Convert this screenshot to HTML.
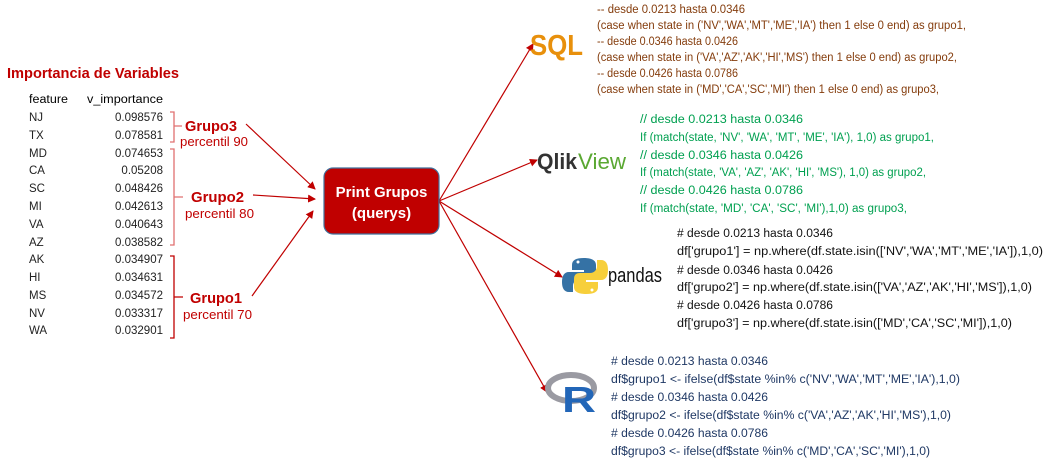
<!DOCTYPE html>
<html><head><meta charset="utf-8"><style>
html,body{margin:0;padding:0;background:#fff;width:1047px;height:462px;overflow:hidden}
svg{display:block}
text{font-family:"Liberation Sans",sans-serif}
</style></head><body>
<svg width="1047" height="462" viewBox="0 0 1047 462" xmlns="http://www.w3.org/2000/svg">
<defs>
<marker id="ah" markerWidth="8" markerHeight="8" refX="7" refY="4" orient="auto" markerUnits="userSpaceOnUse">
<path d="M0,0 L8,4 L0,8 z" fill="#c00000"/></marker>
</defs>
<text x="7" y="78" font-size="15" font-weight="bold" fill="#c00000" textLength="172" lengthAdjust="spacingAndGlyphs">Importancia de Variables</text>
<g font-size="11.5" fill="#000">
<text x="29" y="103" textLength="39" lengthAdjust="spacingAndGlyphs">feature</text>
<text x="87" y="103" textLength="76" lengthAdjust="spacingAndGlyphs">v_importance</text>
</g>
<g font-size="11.5" fill="#222">
<text x="29" y="121">NJ</text><text x="163" y="121" text-anchor="end">0.098576</text>
<text x="29" y="139">TX</text><text x="163" y="139" text-anchor="end">0.078581</text>
<text x="29" y="157">MD</text><text x="163" y="157" text-anchor="end">0.074653</text>
<text x="29" y="174">CA</text><text x="163" y="174" text-anchor="end">0.05208</text>
<text x="29" y="192">SC</text><text x="163" y="192" text-anchor="end">0.048426</text>
<text x="29" y="210">MI</text><text x="163" y="210" text-anchor="end">0.042613</text>
<text x="29" y="228">VA</text><text x="163" y="228" text-anchor="end">0.040643</text>
<text x="29" y="246">AZ</text><text x="163" y="246" text-anchor="end">0.038582</text>
<text x="29" y="263">AK</text><text x="163" y="263" text-anchor="end">0.034907</text>
<text x="29" y="281">HI</text><text x="163" y="281" text-anchor="end">0.034631</text>
<text x="29" y="299">MS</text><text x="163" y="299" text-anchor="end">0.034572</text>
<text x="29" y="317">NV</text><text x="163" y="317" text-anchor="end">0.033317</text>
<text x="29" y="334">WA</text><text x="163" y="334" text-anchor="end">0.032901</text>
</g>
<g fill="none" stroke-width="1.3">
<path d="M170,112 H174 V142 H170 M174,126 H182" stroke="#e07070"/>
<path d="M170,149 H174 V245 H170 M174,197 H183" stroke="#e07070"/>
<path d="M170,256 H174 V338 H170 M174,297 H183" stroke="#c00000"/>
</g>
<g fill="#c00000">
<text x="185" y="131" font-size="15" font-weight="bold" textLength="52" lengthAdjust="spacingAndGlyphs">Grupo3</text>
<text x="180" y="146" font-size="13" textLength="68" lengthAdjust="spacingAndGlyphs">percentil 90</text>
<text x="191" y="202" font-size="15" font-weight="bold" textLength="53" lengthAdjust="spacingAndGlyphs">Grupo2</text>
<text x="185" y="218" font-size="13" textLength="69" lengthAdjust="spacingAndGlyphs">percentil 80</text>
<text x="190" y="303" font-size="15" font-weight="bold" textLength="52" lengthAdjust="spacingAndGlyphs">Grupo1</text>
<text x="183" y="319" font-size="13" textLength="69" lengthAdjust="spacingAndGlyphs">percentil 70</text>
</g>
<g stroke="#c00000" stroke-width="1.2" marker-end="url(#ah)">
<line x1="246" y1="124" x2="315" y2="189"/>
<line x1="253" y1="195" x2="315" y2="199"/>
<line x1="252" y1="296" x2="313" y2="211"/>
<line x1="439" y1="201" x2="533" y2="44"/>
<line x1="439" y1="201" x2="537" y2="160"/>
<line x1="439" y1="201" x2="562" y2="277"/>
<line x1="439" y1="201" x2="547" y2="392"/>
</g>
<rect x="324" y="168" width="115" height="66" rx="9" fill="#c00000" stroke="#41719c" stroke-width="1.2"/>
<text x="381.5" y="197" font-size="15" font-weight="bold" fill="#fff" text-anchor="middle">Print Grupos</text>
<text x="381.5" y="218" font-size="15" font-weight="bold" fill="#fff" text-anchor="middle">(querys)</text>
<text x="530" y="55" font-size="29" font-weight="bold" fill="#e8900c" textLength="53" lengthAdjust="spacingAndGlyphs">SQL</text>
<text x="537" y="169" font-size="22" font-weight="bold" fill="#333" textLength="40" lengthAdjust="spacingAndGlyphs">Qlik</text>
<text x="578" y="169" font-size="22" fill="#5aa832" textLength="48" lengthAdjust="spacingAndGlyphs">View</text>
<g>
<path d="M584,258 c-8,0 -12,2 -12,7 v5 h12 v2 h-15 c-5,0 -7,4 -7,10 c0,6 2,10 7,10 h4 v-6 c0,-4 3,-7 7,-7 h10 c4,0 6,-2 6,-6 v-8 c0,-5 -5,-7 -12,-7z" fill="#3572a5"/>
<path d="M586,294 c8,0 12,-2 12,-7 v-5 h-12 v-2 h15 c5,0 7,-4 7,-10 c0,-6 -2,-10 -7,-10 h-4 v6 c0,4 -3,7 -7,7 h-10 c-4,0 -6,2 -6,6 v8 c0,5 5,7 12,7z" fill="#f7cf3b"/>
<circle cx="578" cy="262" r="1.5" fill="#fff"/><circle cx="592" cy="290" r="1.5" fill="#fff"/>
</g>
<text x="608" y="282" font-size="20" fill="#111" textLength="54" lengthAdjust="spacingAndGlyphs">pandas</text>
<ellipse cx="571" cy="388" rx="23" ry="13" fill="none" stroke="#9a9aa2" stroke-width="6"/>
<text x="562" y="412" font-size="36" font-weight="bold" fill="#2266b8" textLength="34" lengthAdjust="spacingAndGlyphs">R</text>
<g font-size="11.5" fill="#843c0c">
<text x="597" y="13" textLength="148" lengthAdjust="spacingAndGlyphs">-- desde  0.0213  hasta  0.0346</text>
<text x="597" y="29" textLength="369" lengthAdjust="spacingAndGlyphs">(case when state in ('NV','WA','MT','ME','IA') then 1 else 0 end) as grupo1,</text>
<text x="597" y="45" textLength="141" lengthAdjust="spacingAndGlyphs">-- desde  0.0346 hasta  0.0426</text>
<text x="597" y="61" textLength="360" lengthAdjust="spacingAndGlyphs">(case when state in ('VA','AZ','AK','HI','MS') then 1 else 0 end) as grupo2,</text>
<text x="597" y="77" textLength="141" lengthAdjust="spacingAndGlyphs">-- desde  0.0426 hasta  0.0786</text>
<text x="597" y="93" textLength="342" lengthAdjust="spacingAndGlyphs">(case when state in ('MD','CA','SC','MI') then 1 else 0 end) as grupo3,</text>
</g>
<g font-size="11.5" fill="#00a050">
<text x="640" y="123" textLength="163" lengthAdjust="spacingAndGlyphs">// desde  0.0213  hasta  0.0346</text>
<text x="640" y="141" textLength="294" lengthAdjust="spacingAndGlyphs">If (match(state, 'NV', 'WA', 'MT', 'ME', 'IA'), 1,0) as grupo1,</text>
<text x="640" y="159" textLength="163" lengthAdjust="spacingAndGlyphs">// desde  0.0346  hasta  0.0426</text>
<text x="640" y="176" textLength="286" lengthAdjust="spacingAndGlyphs">If (match(state, 'VA', 'AZ', 'AK', 'HI', 'MS'), 1,0) as grupo2,</text>
<text x="640" y="194" textLength="163" lengthAdjust="spacingAndGlyphs">// desde  0.0426  hasta  0.0786</text>
<text x="640" y="212" textLength="267" lengthAdjust="spacingAndGlyphs">If (match(state, 'MD', 'CA', 'SC', 'MI'),1,0) as grupo3,</text>
</g>
<g font-size="11.5" fill="#111">
<text x="677" y="237" textLength="156" lengthAdjust="spacingAndGlyphs"># desde  0.0213  hasta  0.0346</text>
<text x="677" y="255" textLength="366" lengthAdjust="spacingAndGlyphs">df['grupo1'] = np.where(df.state.isin(['NV','WA','MT','ME','IA']),1,0)</text>
<text x="677" y="274" textLength="156" lengthAdjust="spacingAndGlyphs"># desde  0.0346  hasta  0.0426</text>
<text x="677" y="291" textLength="355" lengthAdjust="spacingAndGlyphs">df['grupo2'] = np.where(df.state.isin(['VA','AZ','AK','HI','MS']),1,0)</text>
<text x="677" y="309" textLength="156" lengthAdjust="spacingAndGlyphs"># desde  0.0426  hasta  0.0786</text>
<text x="677" y="327" textLength="335" lengthAdjust="spacingAndGlyphs">df['grupo3'] = np.where(df.state.isin(['MD','CA','SC','MI']),1,0)</text>
</g>
<g font-size="11.5" fill="#1f3864">
<text x="611" y="365" textLength="157" lengthAdjust="spacingAndGlyphs"># desde  0.0213  hasta  0.0346</text>
<text x="611" y="383" textLength="349" lengthAdjust="spacingAndGlyphs">df$grupo1 &lt;- ifelse(df$state %in% c('NV','WA','MT','ME','IA'),1,0)</text>
<text x="611" y="401" textLength="157" lengthAdjust="spacingAndGlyphs"># desde  0.0346  hasta  0.0426</text>
<text x="611" y="419" textLength="340" lengthAdjust="spacingAndGlyphs">df$grupo2 &lt;- ifelse(df$state %in% c('VA','AZ','AK','HI','MS'),1,0)</text>
<text x="611" y="437" textLength="157" lengthAdjust="spacingAndGlyphs"># desde  0.0426  hasta  0.0786</text>
<text x="611" y="455" textLength="319" lengthAdjust="spacingAndGlyphs">df$grupo3 &lt;- ifelse(df$state %in% c('MD','CA','SC','MI'),1,0)</text>
</g>
</svg>
</body></html>
